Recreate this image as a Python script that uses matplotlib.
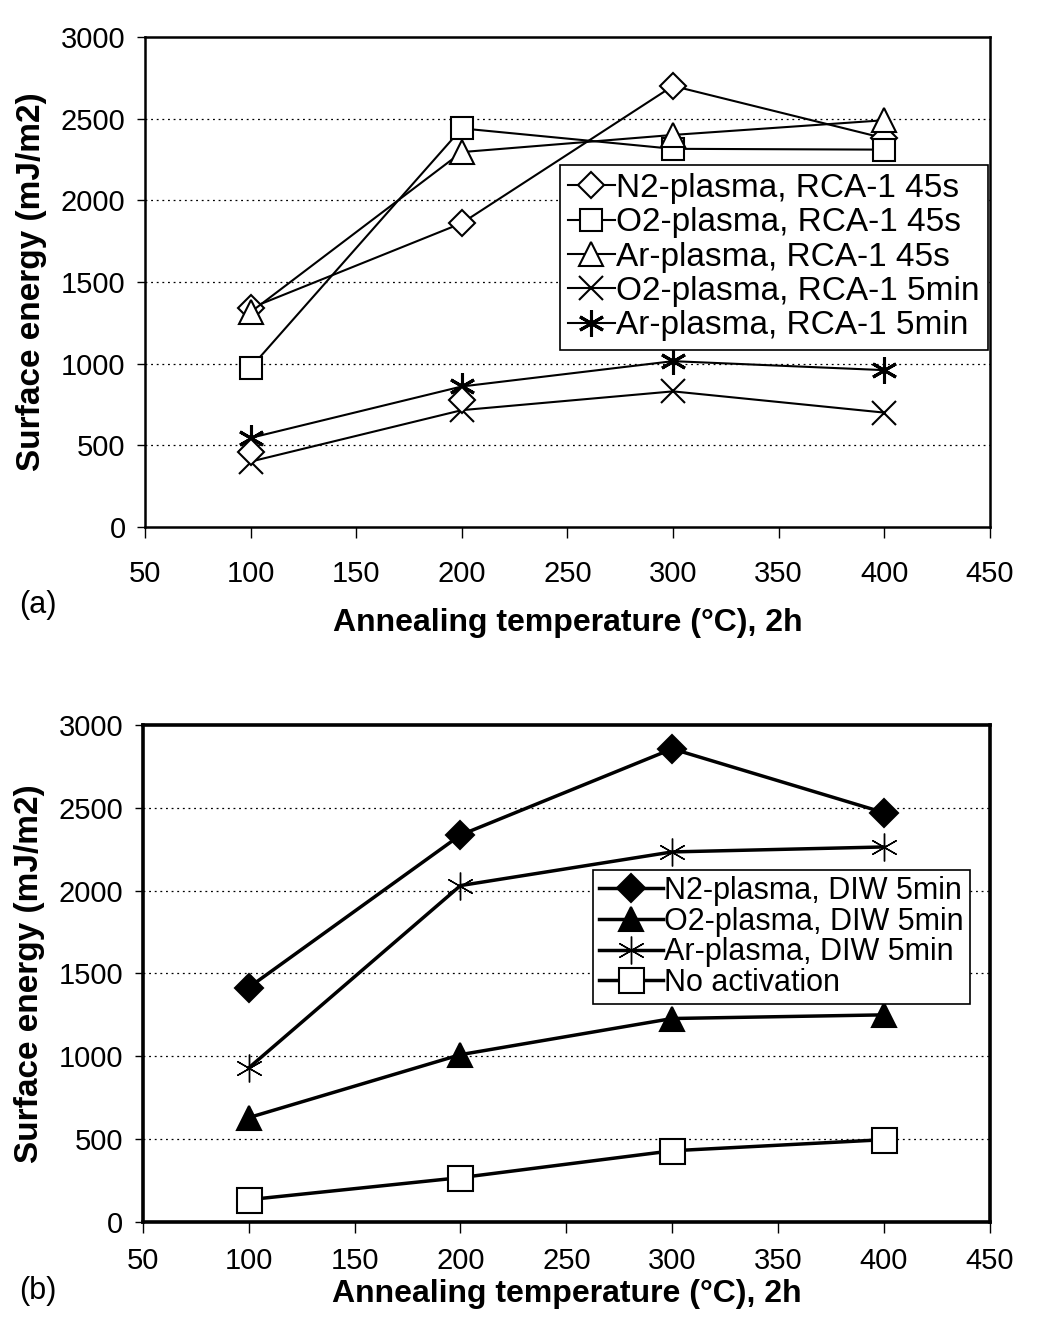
import matplotlib
matplotlib.use('Agg')
import matplotlib.pyplot as plt

plt.rcParams['font.family'] = ['Liberation Sans', 'DejaVu Sans']

temps = [100, 200, 300, 400]

# (a) RCA-1 treatments
n2_rca_45s = [1340, 1860, 2700, 2380]
o2_rca_45s = [975, 2440, 2315, 2310]
ar_rca_45s = [1315, 2295, 2400, 2490]
o2_rca_5min = [400, 715, 830, 700]
ar_rca_5min = [545, 860, 1015, 960]
n2_extra_temps = [100, 200]
n2_extra = [460, 780]

# (b) DIW treatments
n2_diw = [1415, 2335, 2855, 2470]
o2_diw = [630, 1010, 1228, 1250]
ar_diw = [930, 2030, 2233, 2263]
no_act = [135, 268, 430, 497]

xticks = [50, 100, 150, 200, 250, 300, 350, 400, 450]
yticks = [0, 500, 1000, 1500, 2000, 2500, 3000]

fig = plt.figure(figsize=(10.43, 13.19), dpi=100)

def style_axes(ax, spine_w, xpad):
    ax.set_xlim(50, 450)
    ax.set_ylim(0, 3000)
    ax.set_xticks(xticks)
    ax.set_yticks(yticks)
    ax.tick_params(axis='x', direction='out', length=8, width=1, pad=xpad, labelsize=21)
    ax.tick_params(axis='y', direction='out', length=6, width=1, pad=8, labelsize=21)
    for y in yticks[1:-1]:
        ax.axhline(y, color='black', lw=0.9, ls=(0, (1.5, 3)), zorder=0)
    for s in ax.spines.values():
        s.set_linewidth(spine_w)
    ax.set_ylabel('Surface energy (mJ/m2)', fontsize=24, fontweight='bold', labelpad=10)

# ---- panel (a)
ax1 = fig.add_axes([0.139, 0.6005, 0.81, 0.3715])
mk = dict(color='black', markerfacecolor='white', markeredgecolor='black', lw=1.5, mew=1.5)
ax1.plot(temps, n2_rca_45s, marker='D', ms=13, label='N2-plasma, RCA-1 45s', **mk)
ax1.plot(temps, o2_rca_45s, marker='s', ms=16, label='O2-plasma, RCA-1 45s', **mk)
ax1.plot(temps, ar_rca_45s, marker='^', ms=17, label='Ar-plasma, RCA-1 45s', **mk)
ax1.plot(temps, o2_rca_5min, marker='x', ms=17, label='O2-plasma, RCA-1 5min', **mk)
ax1.plot(temps, ar_rca_5min, marker=(6, 2, 0), ms=19, label='Ar-plasma, RCA-1 5min',
         color='black', lw=1.5, mew=2.2)
ax1.plot(n2_extra_temps, n2_extra, marker='D', ms=13, ls='none', color='black',
         markerfacecolor='white', mew=1.5, label='_nolegend_')
style_axes(ax1, 1.8, 16)
ax1.set_xlabel('Annealing temperature (°C), 2h', fontsize=23, fontweight='bold', labelpad=14)
leg1 = ax1.legend(loc='upper left', bbox_to_anchor=(0.491, 0.739), fontsize=24,
                  frameon=True, fancybox=False, edgecolor='black', framealpha=1,
                  handlelength=1.4, handletextpad=0.05, labelspacing=0.1,
                  borderpad=0.25, borderaxespad=0)
leg1.get_frame().set_linewidth(1.2)
fig.text(0.018, 0.535, '(a)', fontsize=22)

# ---- panel (b)
ax2 = fig.add_axes([0.137, 0.0735, 0.812, 0.377])
mk2 = dict(color='black', markeredgecolor='black', lw=2.5, mew=1.5)
ax2.plot(temps, n2_diw, marker='D', ms=14, markerfacecolor='black', label='N2-plasma, DIW 5min', **mk2)
ax2.plot(temps, o2_diw, marker='^', ms=17, markerfacecolor='black', label='O2-plasma, DIW 5min', **mk2)
ax2.plot(temps, ar_diw, marker=(6, 2, 0), ms=20, label='Ar-plasma, DIW 5min',
         color='black', lw=2.5, mew=1.0)
ax2.plot(temps, no_act, marker='s', ms=18, markerfacecolor='white', label='No activation', **mk2)
style_axes(ax2, 2.6, 10)
ax2.set_xlabel('Annealing temperature (°C), 2h', fontsize=23, fontweight='bold', labelpad=3)
leg2 = ax2.legend(loc='upper left', bbox_to_anchor=(0.531, 0.708), fontsize=22,
                  frameon=True, fancybox=False, edgecolor='black', framealpha=1,
                  handlelength=2.1, handletextpad=0.05, labelspacing=0.02,
                  borderpad=0.2, borderaxespad=0)
leg2.get_frame().set_linewidth(1.2)
fig.text(0.018, 0.015, '(b)', fontsize=22)

fig.savefig('out.png', dpi=100)
